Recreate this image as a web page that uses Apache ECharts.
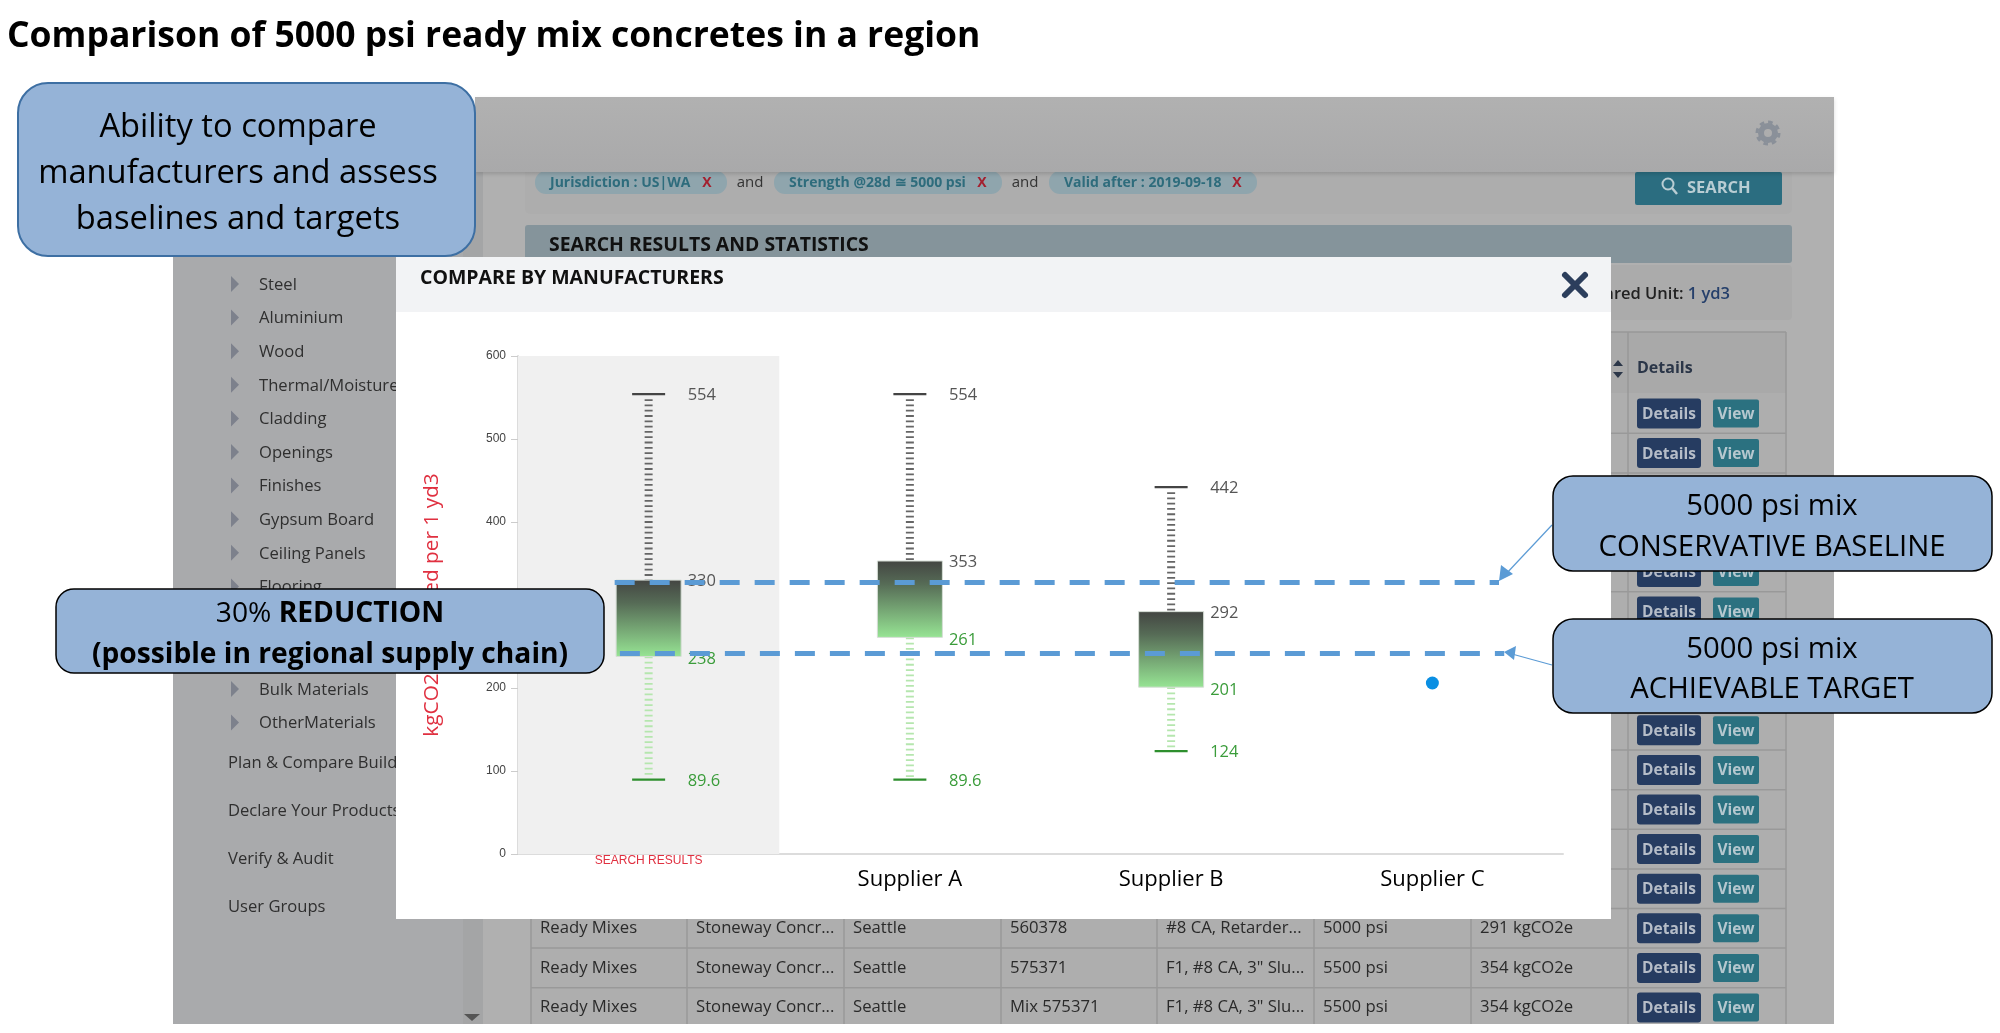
<!DOCTYPE html>
<html>
<head>
<meta charset="utf-8">
<title>Comparison of 5000 psi ready mix concretes in a region</title>
<style>
html, body { margin: 0; padding: 0; background: #fff; }
#main { width: 2000px; height: 1033px; }
</style>
</head>
<body>
<div id="main"></div>
<script src="https://cdn.jsdelivr.net/npm/echarts@6/dist/echarts.min.js"></script>
<script>
// chart data
var categories = ['SEARCH RESULTS', 'Supplier A', 'Supplier B', 'Supplier C'];
var whiskerHigh = [554, 554, 442];
var boxHigh = [330, 353, 292];
var boxLow = [238, 261, 201];
var whiskerLow = [89.6, 89.6, 124];
var singlePoint = [null, null, null, 206];
var baselineLine = [[0.37, 327], [3.755, 327]];
var targetLine = [[0.39, 241.5], [3.775, 241.5]];
var highlightCategory = [0];

// text of the dimmed page behind the dialog
var sidebarUpper = ['Steel', 'Aluminium', 'Wood', 'Thermal/Moisture Protection', 'Cladding', 'Openings', 'Finishes', 'Gypsum Board', 'Ceiling Panels', 'Flooring'];
var sidebarLower = ['Bulk Materials', 'OtherMaterials'];
var sidebarMenu = ['Plan & Compare Buildings', 'Declare Your Products', 'Verify & Audit', 'User Groups'];
var filterChips = ['Jurisdiction : US|WA', 'Strength @28d ≅ 5000 psi', 'Valid after : 2019-09-18'];
var tableRows = [
	['Ready Mixes', 'Stoneway Concr...', 'Seattle', '560378', '#8 CA, Retarder...', '5000 psi', '291 kgCO2e'],
	['Ready Mixes', 'Stoneway Concr...', 'Seattle', '575371', 'F1, #8 CA, 3" Slu...', '5500 psi', '354 kgCO2e'],
	['Ready Mixes', 'Stoneway Concr...', 'Seattle', 'Mix 575371', 'F1, #8 CA, 3" Slu...', '5500 psi', '354 kgCO2e']
];

var FONT = '"Open Sans", sans-serif';
var g = [];

function rect(x, y, w, h, fill, z, r, extra) {
	var el = {type: 'rect', shape: {x: x, y: y, width: w, height: h, r: r || 0}, style: {fill: fill}, z: z, silent: true};
	if (extra) Object.assign(el.style, extra);
	g.push(el);
}
// 1 down: Open Sans sits a little high with verticalAlign middle
function text(x, y, str, font, fill, z, align) {
	g.push({type: 'text', x: x, y: y + 1, z: z, silent: true, style: {
		text: str, font: font, fill: fill, align: align || 'left', verticalAlign: 'middle'
	}});
}
function poly(points, fill, z) {
	g.push({type: 'polygon', shape: {points: points}, style: {fill: fill}, z: z, silent: true});
}
function line(x1, y1, x2, y2, stroke, width, z, cap) {
	g.push({type: 'line', shape: {x1: x1, y1: y1, x2: x2, y2: y2}, style: {stroke: stroke, lineWidth: width, lineCap: cap || 'butt'}, z: z, silent: true});
}

// page behind the dialog
rect(173, 172, 310, 852, '#a9aaac', -30);
rect(463, 172, 20, 852, '#a4a5a6', -30);
poly([[464, 1014], [480, 1014], [472, 1021]], '#555', -29);
rect(483, 172, 1351, 852, '#b0b0b0', -30);
rect(475, 97, 1359, 75, {type: 'linear', x: 0, y: 0, x2: 0, y2: 1, colorStops: [{offset: 0, color: '#b1b1b1'}, {offset: 1, color: '#a9a9aa'}]}, -27, 0, {shadowBlur: 4, shadowColor: 'rgba(0,0,0,0.15)', shadowOffsetY: 2});

// gear
g.push({type: 'circle', shape: {cx: 1768, cy: 133, r: 7}, style: {fill: 'none', stroke: '#8a9099', lineWidth: 6}, z: -26, silent: true});
g.push({type: 'circle', shape: {cx: 1768, cy: 133, r: 11}, style: {fill: 'none', stroke: '#8a9099', lineWidth: 3, lineDash: [4.6, 4]}, z: -26, silent: true});

// filter bar
rect(525, 160, 1267, 54, '#adadad', -29, 5);
var chipBoxes = [[535, 192], [774, 228], [1049, 208]];
filterChips.forEach(function(label, i) {
	var x = chipBoxes[i][0], w = chipBoxes[i][1];
	rect(x, 171, w, 23, '#8fa5ad', -28, 11);
	text(x + 15, 182, label, '700 14px ' + FONT, '#2e6c7c', -27);
	text(x + w - 20, 182, 'X', '700 14px ' + FONT, '#a3202f', -27, 'center');
});
text(750, 182, 'and', '15px ' + FONT, '#333', -27, 'center');
text(1025, 182, 'and', '15px ' + FONT, '#333', -27, 'center');
rect(1635, 172, 147, 33, '#2b6d80', -28, 2);
g.push({type: 'circle', shape: {cx: 1668, cy: 184, r: 5.5}, style: {fill: 'none', stroke: '#b9cdd3', lineWidth: 2}, z: -27, silent: true});
line(1672, 188, 1677, 194, '#b9cdd3', 2.5, -27);
text(1687, 187, 'SEARCH', '700 16.5px ' + FONT, '#b9cdd3', -27);

// results band
rect(525, 225, 1267, 38, '#85949b', -28, 3);
text(549, 244, 'SEARCH RESULTS AND STATISTICS', '700 19.4px ' + FONT, '#111', -27);
rect(525, 265, 1267, 55, '#ababab', -28, 4);
g.push({type: 'text', x: 1730, y: 294, z: -27, silent: true, style: {
	text: '{a|Declared Unit: }{b|1 yd3}', align: 'right', verticalAlign: 'middle',
	rich: {a: {font: '600 16.5px ' + FONT, fill: '#222', color: '#222'}, b: {font: '600 16.5px ' + FONT, fill: '#26406b', color: '#26406b'}}
}});

// table
var colLines = [531, 687, 844, 1001, 1157, 1314, 1471, 1628, 1786];
rect(531, 332, 1255, 692, '#aeaeae', -28);
rect(531, 332, 1255, 61, '#a9a9a9', -28);
colLines.forEach(function(x) { line(x, 332, x, 1024, '#999', 1.5, -27); });
line(531, 332, 1786, 332, '#999', 1.5, -27);
text(1637, 367, 'Details', '700 16px ' + FONT, '#2b3648', -26);
poly([[1613, 366], [1623, 366], [1618, 360]], '#2b3648', -26);
poly([[1613, 372], [1623, 372], [1618, 378]], '#2b3648', -26);
for (var r = 0; r < 16; r++) {
	var cy = 413.5 + r * 39.6;
	if (cy + 19.8 < 1024) line(531, cy + 19.8, 1786, cy + 19.8, '#999', 1.5, -27);
	rect(1637, cy - 15, 64, 30, '#263c61', -26, 3);
	rect(1713, cy - 14, 46, 28, '#2b7180', -26, 2);
	text(1669, cy, 'Details', '700 15.5px ' + FONT, '#b6bdc8', -25, 'center');
	text(1736, cy, 'View', '700 15.5px ' + FONT, '#b6c8cf', -25, 'center');
}
tableRows.forEach(function(row, i) {
	row.forEach(function(cell, c) {
		text(colLines[c] + 9, 927.5 + i * 39.6, cell, '16.7px ' + FONT, '#2a2a2a', -25);
	});
});

// sidebar
sidebarUpper.forEach(function(label, i) {
	var y = 284 + i * 33.6;
	poly([[231, y - 8], [239, y], [231, y + 8]], '#7d818c', -26);
	text(259, y, label, '16.6px ' + FONT, '#2f2f2f', -26);
});
sidebarLower.forEach(function(label, i) {
	var y = 689 + i * 33.6;
	poly([[231, y - 8], [239, y], [231, y + 8]], '#7d818c', -26);
	text(259, y, label, '16.6px ' + FONT, '#2f2f2f', -26);
});
sidebarMenu.forEach(function(label, i) {
	text(228, 762 + i * 48.2, label, '16.6px ' + FONT, '#2f2f2f', -26);
});

// dialog
rect(396, 257, 1215, 662, '#fff', -20);
rect(396, 257, 1215, 55, '#f2f3f5', -19);
text(420, 277, 'COMPARE BY MANUFACTURERS', '700 19.5px ' + FONT, '#111', -18);
line(1565, 275, 1585, 295, '#2c3e5c', 6, -18, 'round');
line(1585, 275, 1565, 295, '#2c3e5c', 6, -18, 'round');

// call-outs over the chart
function callout(x, y, w, h, r, stroke, width, lines, centre, size) {
	rect(x, y, w, h, '#95b3d7', 100, r, {stroke: stroke, lineWidth: width});
	lines.forEach(function(l) {
		g.push({type: 'text', x: centre, y: l[1] + 3, z: 101, silent: true, style: {
			text: l[0], align: 'center', verticalAlign: 'middle', font: size + 'px ' + FONT, fill: '#000',
			rich: {
				r: {font: size + 'px ' + FONT, fill: '#000', color: '#000'},
				b: {font: '700 ' + size + 'px ' + FONT, fill: '#000', color: '#000'}
			}
		}});
	});
}
callout(18, 83, 457, 173, 30, '#3d6fa3', 2, [['{r|Ability to compare}', 125], ['{r|manufacturers and assess}', 171], ['{r|baselines and targets}', 217]], 238, 32.7);
callout(56, 589, 548, 84, 18, '#000', 1.5, [['{r|30% }{b|REDUCTION}', 611], ['{b|(possible in regional supply chain)}', 652]], 330, 28.2);
callout(1553, 476, 439, 95, 20, '#000', 1.5, [['{r|5000 psi mix}', 504], ['{r|CONSERVATIVE BASELINE}', 545]], 1772, 29.3);
callout(1553, 619, 439, 94, 20, '#000', 1.5, [['{r|5000 psi mix}', 647], ['{r|ACHIEVABLE TARGET}', 687]], 1772, 29.3);

// arrows from the call-outs to the dashed lines
line(1552, 525, 1505, 575, '#5b9bd5', 1.2, 50);
poly([[1499, 581], [1501, 565], [1513, 574]], '#5b9bd5', 50);
line(1552, 665, 1512, 654, '#5b9bd5', 1.2, 50);
poly([[1504, 652], [1516, 646], [1514, 660]], '#5b9bd5', 50);

function renderBand(params, api) {
	var size = api.size([1, 0]);
	var centre = api.coord([api.value(0), 0]);
	var top = api.coord([api.value(0), 600]);
	return {
		type: 'rect',
		shape: {x: centre[0] - size[0] / 2, y: top[1], width: size[0], height: centre[1] - top[1]},
		style: {fill: '#f0f0f0'}
	};
}

function renderBox(params, api) {
	var i = api.value(0);
	var high = api.coord([i, api.value(1)]);
	var top = api.coord([i, api.value(2)]);
	var bottom = api.coord([i, api.value(3)]);
	var low = api.coord([i, api.value(4)]);
	var x = high[0];
	function label(val, y, fill) {
		return {type: 'text', style: {x: x + 39, y: y + 1.5, text: String(val), font: '16.5px ' + FONT, fill: fill, align: 'left', verticalAlign: 'middle'}};
	}
	return {
		type: 'group',
		children: [
			{type: 'line', shape: {x1: x, y1: high[1] + 5, x2: x, y2: top[1]}, style: {stroke: '#666', lineWidth: 8, lineDash: [1.8, 3.5]}},
			{type: 'line', shape: {x1: x, y1: bottom[1], x2: x, y2: low[1] - 2}, style: {stroke: '#b5e6ae', lineWidth: 8, lineDash: [1.8, 3.5]}},
			{type: 'line', shape: {x1: x - 16.5, y1: high[1], x2: x + 16.5, y2: high[1]}, style: {stroke: '#444', lineWidth: 2.2}},
			{type: 'line', shape: {x1: x - 16.5, y1: low[1], x2: x + 16.5, y2: low[1]}, style: {stroke: '#2e8f2e', lineWidth: 2.2}},
			{
				type: 'rect',
				shape: {x: x - 32.5, y: top[1], width: 65, height: bottom[1] - top[1]},
				style: {
					stroke: '#d5ddd5',
					lineWidth: 1,
					fill: new echarts.graphic.LinearGradient(0, 0, 0, 1, [
						{offset: 0, color: '#434542'},
						{offset: 0.3, color: '#566b56'},
						{offset: 1, color: '#97e594'}
					])
				}
			},
			label(api.value(1), high[1], '#555'),
			label(api.value(2), top[1], '#555'),
			label(api.value(3), bottom[1] + 1.5, '#3a9c3a'),
			label(api.value(4), low[1], '#3a9c3a')
		]
	};
}

var boxData = whiskerHigh.map(function(v, i) {
	return [i, v, boxHigh[i], boxLow[i], whiskerLow[i]];
});

var myChart = echarts.init(document.getElementById('main'), null, {renderer: 'canvas'});
myChart.setOption({
	animation: false,
	backgroundColor: '#fff',
	textStyle: {fontFamily: FONT},
	title: {
		text: 'Comparison of 5000 psi ready mix concretes in a region',
		left: 2,
		top: 14,
		textStyle: {fontFamily: FONT, fontWeight: 700, fontSize: 35.5, color: '#000'}
	},
	graphic: {elements: g},
	grid: {left: 518, right: 437, top: 356, height: 498},
	xAxis: [
		{
			type: 'category',
			data: categories,
			axisLine: {lineStyle: {color: '#dcdcdc', width: 2}},
			axisTick: {show: false},
			axisLabel: {
				margin: 0,
				interval: 0,
				formatter: function(v) {
					return v === categories[0] ? '{s|' + v + '}' : '{n|' + v + '}';
				},
				rich: {
					s: {fontFamily: '"Liberation Sans", sans-serif', fontSize: 12, color: '#e03040', lineHeight: 14},
					n: {fontFamily: FONT, fontSize: 22, color: '#000', lineHeight: 26, padding: [26, 0, 0, 0]}
				}
			}
		},
		{type: 'value', show: false, min: 0, max: 4}
	],
	yAxis: {
		type: 'value',
		min: 0,
		max: 600,
		interval: 100,
		name: 'kgCO2 embodied per 1 yd3',
		nameLocation: 'middle',
		nameGap: 75,
		nameTextStyle: {fontFamily: FONT, fontSize: 20.8, color: '#e03040'},
		axisLine: {show: true, lineStyle: {color: '#dcdcdc', width: 2}},
		axisTick: {show: true, length: 7, lineStyle: {color: '#ccc'}},
		axisLabel: {fontFamily: '"Liberation Sans", sans-serif', fontSize: 12, color: '#444', margin: 12},
		splitLine: {show: false}
	},
	series: [
		{
			type: 'custom',
			name: 'highlight',
			z: 1,
			silent: true,
			renderItem: renderBand,
			data: highlightCategory.map(function(i) { return [i]; }),
			encode: {x: 0}
		},
		{
			type: 'custom',
			name: 'range',
			z: 3,
			renderItem: renderBox,
			data: boxData,
			encode: {x: 0, y: [1, 2, 3, 4]}
		},
		{
			type: 'scatter',
			name: 'single',
			z: 4,
			symbolSize: 13,
			itemStyle: {color: '#0a8fe3', opacity: 1},
			data: singlePoint
		},
		{
			type: 'line',
			name: 'baseline',
			xAxisIndex: 1,
			z: 6,
			showSymbol: false,
			lineStyle: {color: '#5b9bd5', width: 5, type: [20, 15]},
			data: baselineLine
		},
		{
			type: 'line',
			name: 'target',
			xAxisIndex: 1,
			z: 6,
			showSymbol: false,
			lineStyle: {color: '#5b9bd5', width: 5, type: [20, 15]},
			data: targetLine
		}
	]
});
</script>
</body>
</html>
